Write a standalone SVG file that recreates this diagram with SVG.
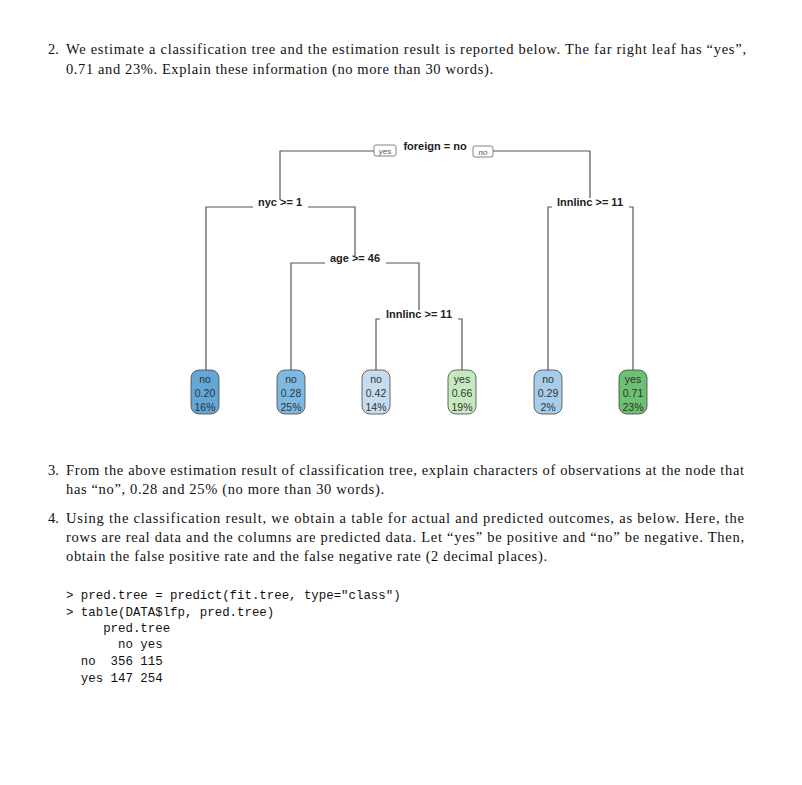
<svg xmlns="http://www.w3.org/2000/svg" width="802" height="785" viewBox="0 0 802 785">
<style>
.p{font-family:"Liberation Serif",serif;font-size:14.5px;fill:#111}
.c{font-family:"Liberation Mono",monospace;font-size:12.4px;fill:#111}
.s{font-family:"Liberation Sans",Arial,sans-serif;font-size:11px;font-weight:bold;fill:#222;text-anchor:middle}
.l{font-family:"Liberation Sans",Arial,sans-serif;font-size:10.5px;fill:#333;text-anchor:middle}
.e{fill:none;stroke:#555;stroke-width:1.2}
.leaf{stroke:#444;stroke-width:0.8}
.tag{fill:#fff;stroke:#666;stroke-width:0.8}
.ti{font-family:"Liberation Sans",Arial,sans-serif;font-size:8px;font-style:italic;fill:#555;text-anchor:middle}
</style>
<rect width="802" height="785" fill="#fff"/>
<text class="p" x="48" y="54">2.</text>
<text class="p" x="66" y="54" textLength="680" lengthAdjust="spacing">We estimate a classification tree and the estimation result is reported below. The far right leaf has “yes”,</text>
<text class="p" x="66" y="74" textLength="427" lengthAdjust="spacing">0.71 and 23%. Explain these information (no more than 30 words).</text>
<g id="connectors">
<path class="e" d="M375 151H280V200M487 151H590V198"/>
<path class="e" d="M253 207H206V370M308 207H355V256"/>
<path class="e" d="M325 263H291V370M386 263H419V310"/>
<path class="e" d="M380 319H376V370M458 319H462V370"/>
<path class="e" d="M552 207H548V370M629 207H633V370"/>
</g>
<g id="n_root"><text class="s" x="435" y="150">foreign = no</text>
<rect class="tag" x="374" y="145" width="22" height="11" rx="2"/><text class="ti" x="385" y="153.5">yes</text>
<rect class="tag" x="473" y="146" width="20" height="11" rx="2"/><text class="ti" x="483" y="154.5">no</text></g>
<g id="n_nyc"><text class="s" x="280" y="206">nyc &gt;= 1</text></g>
<g id="n_age"><text class="s" x="355" y="262">age &gt;= 46</text></g>
<g id="n_ln1"><text class="s" x="419" y="318">lnnlinc &gt;= 11</text></g>
<g id="n_ln2"><text class="s" x="590" y="206">lnnlinc &gt;= 11</text></g>
<g id="leaf1"><rect class="leaf" x="191" y="370" width="28" height="44" rx="8" fill="#62a7d6"/><text class="l" x="205" y="383">no</text><text class="l" x="205" y="397">0.20</text><text class="l" x="205" y="411">16%</text></g>
<g id="leaf2"><rect class="leaf" x="277" y="370" width="28" height="44" rx="8" fill="#7eb9e1"/><text class="l" x="291" y="383">no</text><text class="l" x="291" y="397">0.28</text><text class="l" x="291" y="411">25%</text></g>
<g id="leaf3"><rect class="leaf" x="362" y="370" width="28" height="44" rx="8" fill="#c8dcf0"/><text class="l" x="376" y="383">no</text><text class="l" x="376" y="397">0.42</text><text class="l" x="376" y="411">14%</text></g>
<g id="leaf4"><rect class="leaf" x="448" y="370" width="28" height="44" rx="8" fill="#c6eabf"/><text class="l" x="462" y="383">yes</text><text class="l" x="462" y="397">0.66</text><text class="l" x="462" y="411">19%</text></g>
<g id="leaf5"><rect class="leaf" x="534" y="370" width="28" height="44" rx="8" fill="#a6cdea"/><text class="l" x="548" y="383">no</text><text class="l" x="548" y="397">0.29</text><text class="l" x="548" y="411">2%</text></g>
<g id="leaf6"><rect class="leaf" x="619" y="370" width="28" height="44" rx="8" fill="#6cc072"/><text class="l" x="633" y="383">yes</text><text class="l" x="633" y="397">0.71</text><text class="l" x="633" y="411">23%</text></g>
<text class="p" x="48" y="475">3.</text>
<text class="p" x="66" y="475" textLength="678" lengthAdjust="spacing">From the above estimation result of classification tree, explain characters of observations at the node that</text>
<text class="p" x="66" y="494" textLength="318" lengthAdjust="spacing">has “no”, 0.28 and 25% (no more than 30 words).</text>
<text class="p" x="48" y="523">4.</text>
<text class="p" x="66" y="523" textLength="678" lengthAdjust="spacing">Using the classification result, we obtain a table for actual and predicted outcomes, as below. Here, the</text>
<text class="p" x="66" y="542" textLength="678" lengthAdjust="spacing">rows are real data and the columns are predicted data. Let “yes” be positive and “no” be negative. Then,</text>
<text class="p" x="66" y="561" textLength="481" lengthAdjust="spacing">obtain the false positive rate and the false negative rate (2 decimal places).</text>
<text class="c" x="66" y="599" xml:space="preserve">&gt; pred.tree = predict(fit.tree, type="class")</text>
<text class="c" x="66" y="616" xml:space="preserve">&gt; table(DATA$lfp, pred.tree)</text>
<text class="c" x="66" y="632" xml:space="preserve">     pred.tree</text>
<text class="c" x="66" y="648" xml:space="preserve">       no yes</text>
<text class="c" x="66" y="665" xml:space="preserve">  no  356 115</text>
<text class="c" x="66" y="682" xml:space="preserve">  yes 147 254</text>
</svg>
